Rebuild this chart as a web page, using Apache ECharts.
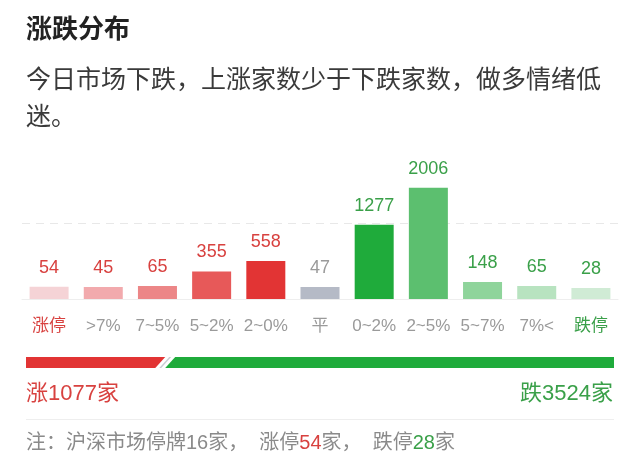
<!DOCTYPE html>
<html>
<head>
<meta charset="utf-8">
<script src="https://cdn.jsdelivr.net/npm/echarts@6/dist/echarts.min.js"></script>
<style>
  html, body { margin: 0; padding: 0; background: #fff; }
  #main { width: 640px; height: 468px; }
</style>
</head>
<body>
<div id="main"></div>
<script>
// 数据
var categories = ['涨停', '>7%', '7~5%', '5~2%', '2~0%', '平', '0~2%', '2~5%', '5~7%', '7%<', '跌停'];
var counts = [54, 45, 65, 355, 558, 47, 1277, 2006, 148, 65, 28];
var riseTotal = 1077;
var flatTotal = 47;
var fallTotal = 3524;
var suspended = 16;
var limitUp = 54;
var limitDown = 28;

// 样式
var barColors = ['#f5d3d6', '#f2aaad', '#ec8687', '#e75959', '#e23434', '#b5bac6',
    '#1fab3b', '#5cbf6f', '#8fd49b', '#b8e3c0', '#d0ebd5'];
var RED = '#d8413f', GREEN = '#3aa049', GRAY = '#9a9a9a';
var FONT = "'Liberation Sans', 'Noto Sans CJK SC', sans-serif";
var flatIdx = categories.indexOf('平');

function sideColor(i) {
    if (i < flatIdx) return RED;
    if (i > flatIdx) return GREEN;
    return GRAY;
}

var barData = counts.map(function (v, i) {
    return {
        value: v,
        itemStyle: { color: barColors[i] },
        label: { color: sideColor(i) }
    };
});

var segTotal = riseTotal + flatTotal + fallTotal;
var segments = [
    [0, riseTotal, '#e23434'],
    [riseTotal, riseTotal + flatTotal, '#c9ccd2'],
    [riseTotal + flatTotal, segTotal, '#1fab3b']
];

var myChart = echarts.init(document.getElementById('main'));
var option = {
    backgroundColor: '#fff',
    animation: false,
    grid: [
        { left: 22, right: 22, top: 183, bottom: 169 },
        { left: 26, right: 26, top: 357, height: 11 }
    ],
    xAxis: [{
        type: 'category',
        gridIndex: 0,
        data: categories,
        axisLine: { onZero: false, lineStyle: { color: '#eeeeee', width: 1 } },
        axisTick: { show: false },
        axisLabel: {
            interval: 0,
            margin: 19,
            fontSize: 17,
            fontFamily: FONT,
            color: function (value) {
                if (value === '涨停') return RED;
                if (value === '跌停') return GREEN;
                return GRAY;
            }
        }
    }, {
        type: 'value',
        gridIndex: 1,
        min: 0,
        max: segTotal,
        show: false
    }],
    yAxis: [{
        type: 'value',
        gridIndex: 0,
        min: -190,
        max: 2100,
        startValue: -190,
        axisLine: { show: false },
        axisTick: { show: false },
        axisLabel: { show: false },
        splitLine: { show: false }
    }, {
        type: 'category',
        gridIndex: 1,
        data: ['all'],
        show: false
    }],
    series: [{
        type: 'bar',
        xAxisIndex: 0,
        yAxisIndex: 0,
        z: 3,
        barWidth: 39,
        data: barData,
        label: {
            show: true,
            position: 'top',
            distance: 10,
            fontSize: 18,
            fontFamily: FONT
        },
        markLine: {
            // 虚线参考线，放在柱子后面
            z: 1,
            silent: true,
            symbol: 'none',
            label: { show: false },
            lineStyle: { type: [8, 6], color: '#e8e8e8', width: 1 },
            data: [{ yAxis: 1310 }]
        }
    }, {
        type: 'custom',
        xAxisIndex: 1,
        yAxisIndex: 1,
        data: segments,
        renderItem: function (params, api) {
            var s = api.value(0), e = api.value(1);
            var cs = params.coordSys;
            var top = cs.y, bot = cs.y + cs.height;
            var xs = api.coord([s, 0])[0], xe = api.coord([e, 0])[0];
            var k = 5, g = 2;
            var lt = s > 0 ? xs + g + k : xs, lb = s > 0 ? xs + g - k : xs;
            var rt = e < segTotal ? xe - g + k : xe, rb = e < segTotal ? xe - g - k : xe;
            return {
                type: 'polygon',
                shape: { points: [[lt, top], [rt, top], [rb, bot], [lb, bot]] },
                style: { fill: segments[params.dataIndex][2] }
            };
        }
    }],
    graphic: [{
        type: 'text', left: 26, top: 15,
        style: { text: '涨跌分布', font: "bold 26px 'Noto Sans CJK SC'", fill: '#222' }
    }, {
        type: 'text', left: 26, top: 60,
        style: {
            text: '今日市场下跌，上涨家数少于下跌家数，做多情绪低\n迷。',
            font: "25px 'Noto Sans CJK SC'", fill: '#3a3a3a', lineHeight: 37
        }
    }, {
        type: 'text', left: 26, top: 383,
        style: { text: '涨' + riseTotal + '家', font: '22px ' + FONT, fill: RED }
    }, {
        type: 'text', right: 27, top: 383,
        style: { text: '跌' + fallTotal + '家', font: '22px ' + FONT, fill: GREEN }
    }, {
        type: 'line',
        shape: { x1: 26, y1: 419.5, x2: 614, y2: 419.5 },
        style: { stroke: '#eeeeee', lineWidth: 1 }
    }, {
        type: 'text', left: 26, top: 433,
        style: {
            text: '注：沪深市场停牌' + suspended + '家，  涨停{r|' + limitUp + '}家，  跌停{g|' + limitDown + '}家',
            font: '20px ' + FONT, fill: '#8a8a8a',
            rich: {
                r: { fill: RED, font: '20px ' + FONT },
                g: { fill: GREEN, font: '20px ' + FONT }
            }
        }
    }]
};

myChart.setOption(option);
</script>
</body>
</html>
